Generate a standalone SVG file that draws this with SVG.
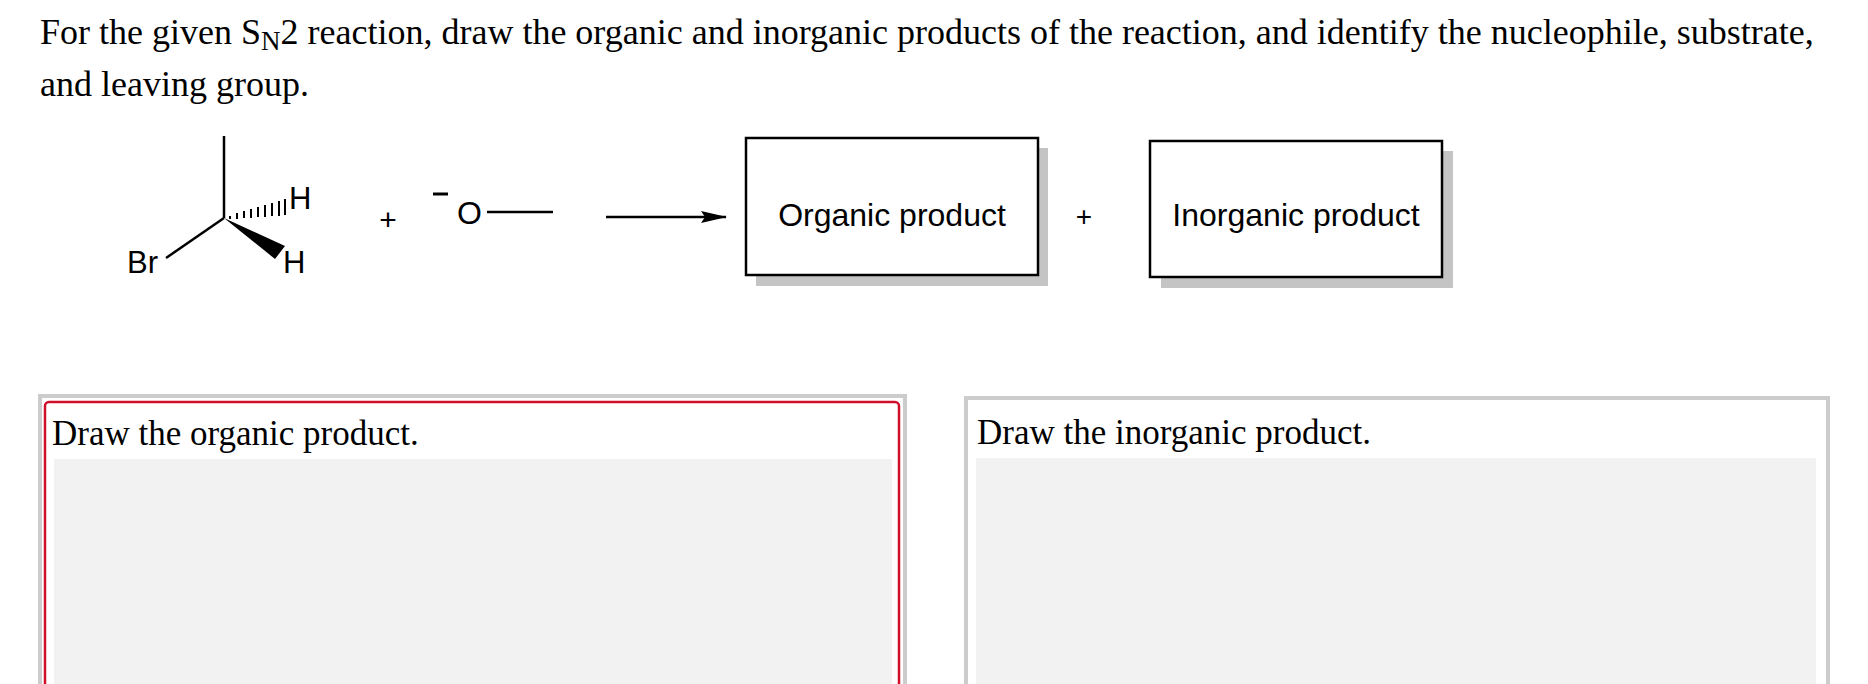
<svg xmlns="http://www.w3.org/2000/svg" width="1868" height="684" viewBox="0 0 1868 684">
<defs>
<style>
.t{font-family:"Liberation Serif",serif;font-size:36px;fill:#000}
.p{font-family:"Liberation Serif",serif;font-size:35px;fill:#000}
.s{font-family:"Liberation Sans",Arial,sans-serif;fill:#000}
.b{stroke:#000;stroke-width:2.5;fill:none}
</style>
<marker id="ah" markerWidth="26" markerHeight="12" refX="25" refY="6" orient="auto" markerUnits="userSpaceOnUse"><path d="M0,0 L26,6 L0,12 L4,6 Z" fill="#000"/></marker>
</defs>
<rect width="1868" height="684" fill="#fff"/>
<text class="t" x="40" y="44">For the given S<tspan font-size="27" dy="6">N</tspan><tspan dy="-6">2 reaction, draw the organic and inorganic products of the reaction, and identify the nucleophile, substrate,</tspan></text>
<text class="t" x="40" y="96">and leaving group.</text>
<g id="substrate">
<line class="b" x1="224" y1="136" x2="224" y2="218"/>
<line class="b" x1="224" y1="218" x2="166" y2="258"/>
<polygon points="224,218 275,259 285,246" fill="#000"/>
<g stroke="#000" stroke-width="2">
<line x1="230" y1="216" x2="230" y2="219"/><line x1="237" y1="213" x2="237" y2="219"/><line x1="244" y1="211" x2="244" y2="218"/><line x1="251" y1="209" x2="251" y2="218"/><line x1="258" y1="207" x2="258" y2="217"/><line x1="265" y1="205" x2="265" y2="217"/><line x1="272" y1="203" x2="272" y2="216"/><line x1="279" y1="201" x2="279" y2="216"/><line x1="285" y1="199" x2="285" y2="215"/>
</g>
<text class="s" x="289" y="209" font-size="31">H</text>
<text class="s" x="283" y="273" font-size="31">H</text>
<text class="s" x="127" y="273" font-size="31">Br</text>
</g>
<text class="s" x="388" y="230" font-size="30" text-anchor="middle">+</text>
<g id="nucleophile">
<line x1="433" y1="194" x2="448" y2="194" stroke="#000" stroke-width="3"/>
<text class="s" x="457" y="224" font-size="32">O</text>
<line class="b" x1="487" y1="212" x2="553" y2="212"/>
</g>
<g id="connectors">
<line x1="606" y1="217" x2="726" y2="217" stroke="#000" stroke-width="2.5" marker-end="url(#ah)"/>
</g>
<g id="organic">
<rect x="756" y="148" width="292" height="138" fill="#c4c4c4"/>
<rect x="746" y="138" width="292" height="137" fill="#fff" stroke="#000" stroke-width="2.5"/>
<text class="s" x="892" y="226" font-size="32" text-anchor="middle">Organic product</text>
</g>
<text class="s" x="1084" y="226" font-size="28" text-anchor="middle">+</text>
<g id="inorganic">
<rect x="1161" y="151" width="292" height="137" fill="#c4c4c4"/>
<rect x="1150" y="141" width="292" height="136" fill="#fff" stroke="#000" stroke-width="2.5"/>
<text class="s" x="1296" y="226" font-size="32" text-anchor="middle">Inorganic product</text>
</g>
<g id="panel-organic">
<rect x="40" y="396" width="865" height="300" fill="none" stroke="#ccc" stroke-width="4"/>
<rect x="45" y="402" width="854" height="300" rx="4" fill="#fff" stroke="#d0102a" stroke-width="2.5"/>
<rect x="54" y="459" width="838" height="240" fill="#f2f2f2"/>
<text class="p" x="52" y="445">Draw the organic product.</text>
</g>
<g id="panel-inorganic">
<rect x="966" y="398" width="862" height="300" fill="#fff" stroke="#ccc" stroke-width="4"/>
<rect x="976" y="458" width="840" height="240" fill="#f2f2f2"/>
<text class="p" x="977" y="444">Draw the inorganic product.</text>
</g>
</svg>
